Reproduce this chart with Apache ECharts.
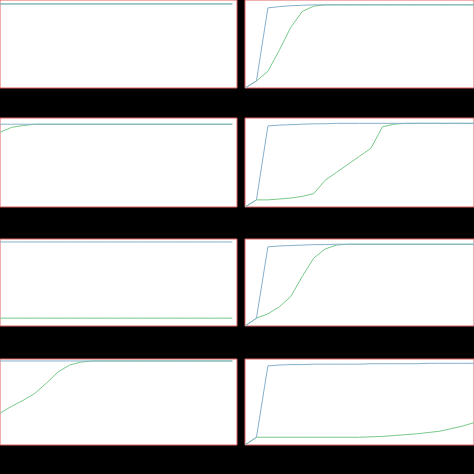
<!DOCTYPE html>
<html><head><meta charset="utf-8">
<script src="https://cdn.jsdelivr.net/npm/echarts@6/dist/echarts.min.js"></script>
<style>html,body{margin:0;padding:0;background:#000}#c{width:474px;height:474px}</style>
</head><body><div id="c"></div>
<script>
// x positions are step indices 0..20
const steps = [0,1,2,3,4,5,6,7,8,9,10,11,12,13,14,15,16,17,18,19,20];
// Left column
const leftBlue1  = [0.955,0.955,0.955,0.955,0.955,0.955,0.955,0.955,0.955,0.955,0.955,0.955,0.955,0.955,0.955,0.955,0.955,0.955,0.955,0.955,0.955];
const leftGreen1 = [0.955,0.955,0.955,0.955,0.955,0.955,0.955,0.955,0.955,0.955,0.955,0.955,0.955,0.955,0.955,0.955,0.955,0.955,0.955,0.955,0.955];
const leftBlue2  = [0.93,0.93,0.93,0.93,0.93,0.93,0.93,0.93,0.93,0.93,0.93,0.93,0.93,0.93,0.93,0.93,0.93,0.93,0.93,0.93,0.93];
const leftGreen2 = [0.84,0.895,0.915,0.93,0.93,0.93,0.93,0.93,0.93,0.93,0.93,0.93,0.93,0.93,0.93,0.93,0.93,0.93,0.93,0.93,0.93];
const leftBlue3  = [0.966,0.966,0.966,0.966,0.966,0.966,0.966,0.966,0.966,0.966,0.966,0.966,0.966,0.966,0.966,0.966,0.966,0.966,0.966,0.966,0.966];
const leftGreen3 = [0.09,0.09,0.09,0.09,0.09,0.09,0.09,0.09,0.09,0.09,0.09,0.09,0.09,0.09,0.09,0.09,0.09,0.09,0.09,0.09,0.09];
const leftBlue4  = [0.977,0.977,0.977,0.977,0.977,0.977,0.977,0.977,0.977,0.977,0.977,0.977,0.977,0.977,0.977,0.977,0.977,0.977,0.977,0.977,0.977];
const leftGreen4 = [0.37,0.45,0.52,0.60,0.72,0.85,0.93,0.965,0.977,0.977,0.977,0.977,0.977,0.977,0.977,0.977,0.977,0.977,0.977,0.977,0.977];
// Right column
const rightBlue1  = [0,0.08,0.91,0.925,0.935,0.94,0.945,0.945,0.945,0.945,0.945,0.945,0.945,0.945,0.945,0.945,0.945,0.945,0.945,0.945,0.945];
const rightGreen1 = [0,0.08,0.19,0.43,0.69,0.87,0.93,0.945,0.945,0.945,0.945,0.945,0.945,0.945,0.945,0.945,0.945,0.945,0.945,0.945,0.945];
const rightBlue2  = [0,0.08,0.91,0.92,0.925,0.93,0.935,0.935,0.94,0.94,0.94,0.94,0.94,0.94,0.94,0.94,0.94,0.94,0.94,0.94,0.94];
const rightGreen2 = [0,0.08,0.08,0.09,0.10,0.12,0.15,0.30,0.39,0.48,0.57,0.66,0.90,0.93,0.94,0.94,0.94,0.94,0.94,0.94,0.94];
const rightBlue3  = [0,0.09,0.91,0.92,0.925,0.93,0.935,0.935,0.94,0.94,0.94,0.94,0.94,0.94,0.94,0.94,0.94,0.94,0.94,0.94,0.94];
const rightGreen3 = [0,0.09,0.14,0.22,0.34,0.57,0.78,0.885,0.93,0.94,0.94,0.94,0.94,0.94,0.94,0.94,0.94,0.94,0.94,0.94,0.94];
const rightBlue4  = [0,0.09,0.92,0.93,0.935,0.935,0.94,0.94,0.94,0.94,0.94,0.945,0.945,0.945,0.945,0.945,0.95,0.95,0.95,0.95,0.95];
const rightGreen4 = [0,0.09,0.09,0.09,0.09,0.09,0.09,0.09,0.09,0.09,0.09,0.095,0.10,0.11,0.12,0.13,0.145,0.16,0.19,0.22,0.26];

const panels = [
  {b:leftBlue1,g:leftGreen1,left:0,top:0,w:237,h:88,max:20.4},
  {b:rightBlue1,g:rightGreen1,left:245,top:0,w:229,h:88,max:20},
  {b:leftBlue2,g:leftGreen2,left:0,top:118,w:237,h:89,max:20.4},
  {b:rightBlue2,g:rightGreen2,left:245,top:118,w:229,h:89,max:20},
  {b:leftBlue3,g:leftGreen3,left:0,top:239,w:237,h:87,max:20.4},
  {b:rightBlue3,g:rightGreen3,left:245,top:239,w:229,h:87,max:20},
  {b:leftBlue4,g:leftGreen4,left:0,top:359,w:237,h:86,max:20.4},
  {b:rightBlue4,g:rightGreen4,left:245,top:359,w:229,h:86,max:20}
];
const grid=[],xAxis=[],yAxis=[],series=[];
panels.forEach((p,i)=>{
  grid.push({left:p.left,top:p.top,width:p.w,height:p.h,show:true,backgroundColor:'#fff',borderColor:'#e06060',borderWidth:1});
  xAxis.push({type:'value',gridIndex:i,min:0,max:p.max,show:false});
  yAxis.push({type:'value',gridIndex:i,min:0,max:1,show:false});
  const mk=(arr,color)=>({type:'line',xAxisIndex:i,yAxisIndex:i,data:steps.map((s,k)=>[s,arr[k]]),symbol:'none',lineStyle:{width:1,color},silent:true,clip:true});
  series.push(mk(p.g,'#78c98a'));
  series.push(mk(p.b,'#86b0cc'));
});
const chart=echarts.init(document.getElementById('c'));
chart.setOption({backgroundColor:'#000',animation:false,grid,xAxis,yAxis,series});
</script></body></html>
